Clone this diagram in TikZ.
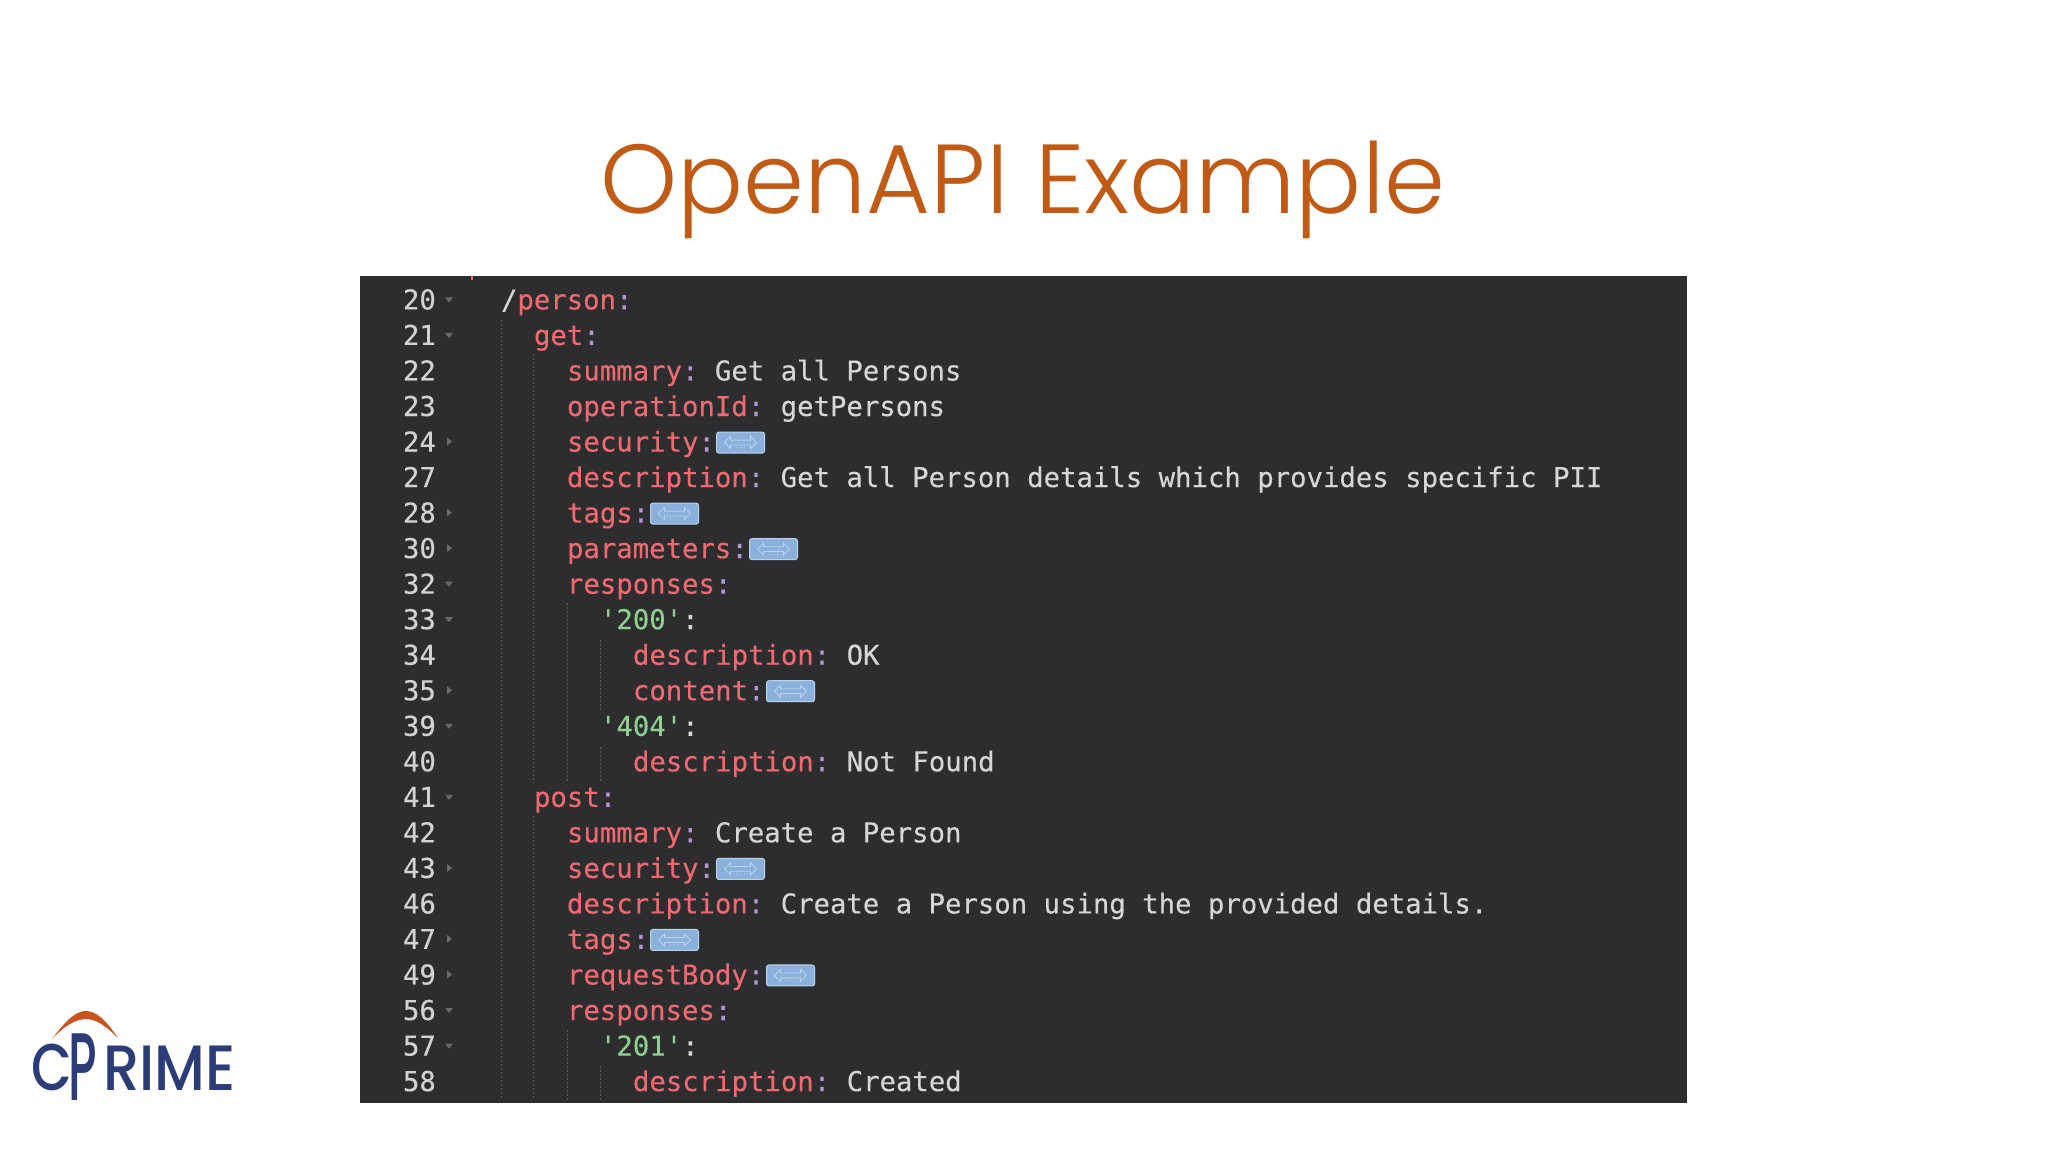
\documentclass[tikz,border=0pt]{standalone}
\usepackage{fontspec}
\newfontfamily\codefont[FakeBold=0.25]{DejaVu Sans Mono}
\newfontfamily\titlefont{Poppins Light}
\newfontfamily\logofont{Poppins Medium}
\definecolor{panelbg}{HTML}{2D2D2F}
\definecolor{keyred}{HTML}{EE6A70}
\definecolor{punct}{HTML}{B595D8}
\definecolor{valgray}{HTML}{D6D6D4}
\definecolor{numgray}{HTML}{D2D2D0}
\definecolor{strgreen}{HTML}{8FCF8F}
\definecolor{titleor}{HTML}{C05A14}
\definecolor{logoblue}{HTML}{2B3C78}
\definecolor{logoor}{HTML}{C9531F}
\definecolor{btnblue}{HTML}{8AB0DC}
\definecolor{btnline}{HTML}{BDD3E8}
\definecolor{foldgray}{HTML}{6A6A6A}
\definecolor{guide}{HTML}{5A5A5C}
\newcommand{\ckey}[1]{\textcolor{keyred}{#1}\textcolor{punct}{:}}
\newcommand{\cval}[1]{\textcolor{valgray}{#1}}
\newcommand{\cstr}[1]{\textcolor{strgreen}{'#1'}\textcolor{valgray}{:}}
\newcommand{\rowy}[1]{309.4+35.53*#1}
\tikzset{
  code/.style={anchor=base west,inner sep=0pt,outer sep=0pt,font=\fontsize{13.65}{16}\codefont\frenchspacing},
  lineno/.style={code,text=numgray},
  guideline/.style={draw=guide,line width=0.5pt,dash pattern=on 1pt off 1pt},
  foldmark/.style={fill=foldgray,draw=none},
  btn/.style={draw=btnline,fill=btnblue,rounded corners=1.2pt,line width=0.5pt,minimum width=24pt,minimum height=10.5pt,inner sep=0pt,anchor=west},
  btnicon/.style={draw=btnline,line width=0.4pt,line join=miter},
  logotext/.style={anchor=base west,inner sep=0pt,text=logoblue},
}
\newcommand{\foldbtn}[3]{%
  \node[btn] (#1) at (#2,{\rowy{#3}-9}) {};
  \draw[btnicon,shift={(#1.center)}] (-8pt,0pt) -- (-5pt,3pt) -- (-5pt,1.2pt) -- (5pt,1.2pt) -- (5pt,3pt) -- (8pt,0pt) -- (5pt,-3pt) -- (5pt,-1.2pt) -- (-5pt,-1.2pt) -- (-5pt,-3pt) -- cycle;
  \foreach \d in {-2,0,2}{\fill[btnline] ([xshift=\d pt,yshift=-2.6pt]#1.center) circle (0.35pt);}
}
\begin{document}
\begin{tikzpicture}[x=0.5pt,y=-0.5pt]
\useasboundingbox (0,0) rectangle (2048,1152);
\fill[white] (0,0) rectangle (2048,1152);
\node[anchor=base,inner sep=0pt,font=\fontsize{49}{58}\titlefont,text=titleor] (title) at (1023,213) {OpenAPI Example};
\fill[panelbg] (360,276) rectangle (1687,1103);
\fill[keyred] (471,276) rectangle (473,280);
% indent guides
\draw[guideline] (501,320) -- (501,1100);
\draw[guideline] (533,354) -- (533,783);
\draw[guideline] (533,816) -- (533,1100);
\draw[guideline] (567,603) -- (567,783);
\draw[guideline] (567,1030) -- (567,1100);
\draw[guideline] (600,640) -- (600,710);
\draw[guideline] (600,747) -- (600,783);
\draw[guideline] (600,1066) -- (600,1100);
% line numbers and fold marks
\foreach \i/\n/\f in {0/20/d,1/21/d,2/22/n,3/23/n,4/24/r,5/27/n,6/28/r,7/30/r,8/32/d,9/33/d,10/34/n,11/35/r,12/39/d,13/40/n,14/41/d,15/42/n,16/43/r,17/46/n,18/47/r,19/49/r,20/56/d,21/57/d,22/58/n}{
  \node[lineno] (ln\n) at (403,{\rowy{\i}}) {\n};
  \if\f d\fill[foldmark] (445,{\rowy{\i}-12}) -- (453,{\rowy{\i}-12}) -- (449,{\rowy{\i}-7}) -- cycle;\fi
  \if\f r\fill[foldmark] (447,{\rowy{\i}-14}) -- (452,{\rowy{\i}-10}) -- (447,{\rowy{\i}-6}) -- cycle;\fi
}
% code
\node[code] (c20) at (501,{\rowy{0}}) {\textcolor{valgray}{/}\ckey{person}};
\node[code] (c21) at (534,{\rowy{1}}) {\ckey{get}};
\node[code] (c22) at (567,{\rowy{2}}) {\ckey{summary} \cval{Get all Persons}};
\node[code] (c23) at (567,{\rowy{3}}) {\ckey{operationId} \cval{getPersons}};
\node[code] (c24) at (567,{\rowy{4}}) {\ckey{security}};
\node[code] (c27) at (567,{\rowy{5}}) {\ckey{description} \cval{Get all Person details which provides specific PII}};
\node[code] (c28) at (567,{\rowy{6}}) {\ckey{tags}};
\node[code] (c30) at (567,{\rowy{7}}) {\ckey{parameters}};
\node[code] (c32) at (567,{\rowy{8}}) {\ckey{responses}};
\node[code] (c33) at (600,{\rowy{9}}) {\cstr{200}};
\node[code] (c34) at (633,{\rowy{10}}) {\ckey{description} \cval{OK}};
\node[code] (c35) at (633,{\rowy{11}}) {\ckey{content}};
\node[code] (c39) at (600,{\rowy{12}}) {\cstr{404}};
\node[code] (c40) at (633,{\rowy{13}}) {\ckey{description} \cval{Not Found}};
\node[code] (c41) at (534,{\rowy{14}}) {\ckey{post}};
\node[code] (c42) at (567,{\rowy{15}}) {\ckey{summary} \cval{Create a Person}};
\node[code] (c43) at (567,{\rowy{16}}) {\ckey{security}};
\node[code] (c46) at (567,{\rowy{17}}) {\ckey{description} \cval{Create a Person using the provided details.}};
\node[code] (c47) at (567,{\rowy{18}}) {\ckey{tags}};
\node[code] (c49) at (567,{\rowy{19}}) {\ckey{requestBody}};
\node[code] (c56) at (567,{\rowy{20}}) {\ckey{responses}};
\node[code] (c57) at (600,{\rowy{21}}) {\cstr{201}};
\node[code] (c58) at (633,{\rowy{22}}) {\ckey{description} \cval{Created}};
% collapsed buttons
\foldbtn{b24}{716}{4}
\foldbtn{b28}{650}{6}
\foldbtn{b30}{749}{7}
\foldbtn{b35}{766}{11}
\foldbtn{b43}{716}{16}
\foldbtn{b47}{650}{18}
\foldbtn{b49}{766}{19}
% logo
\fill[logoor] (52,1039) .. controls (66,1020) and (76,1011) .. (86,1011) .. controls (96,1011) and (106,1020) .. (118,1038) .. controls (106,1026) and (96,1019) .. (86,1019) .. controls (76,1019) and (64,1026) .. (52,1039) -- cycle;
\node[logotext,font=\fontsize{33}{40}\logofont,xscale=0.8] (logoc) at (31,1090) {C};
\node[logotext,font=\fontsize{48}{50}\logofont,xscale=0.5] (logop) at (68,1100) {P};
\node[logotext,font=\fontsize{32}{40}\logofont,xscale=0.9] (logor) at (103,1090) {RIME};
\end{tikzpicture}
\end{document}
